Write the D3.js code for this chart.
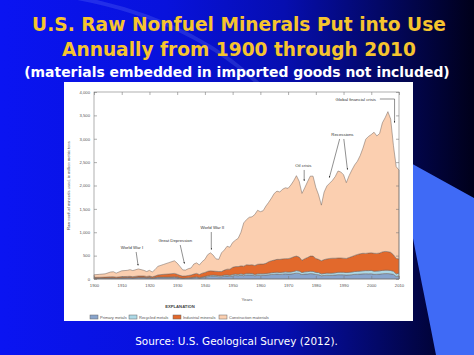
<!DOCTYPE html>
<html><head><meta charset="utf-8">
<script src="https://cdn.jsdelivr.net/npm/d3@7"></script>
<style>html,body{margin:0;padding:0;overflow:hidden;background:#0010d0}</style>
</head><body>
<svg id="c" width="474" height="355"></svg>
<script>
// ---------------- DATA (million metric tons) ----------------
const years = [1900,1902,1904,1906,1907,1908,1910,1912,1913,1914,1916,1918,1919,1920,1921,1922,1923,1925,1927,1929,
1930,1931,1932,1933,1934,1935,1936,1937,1938,1939,1940,1941,1942,1943,1944,1945,1946,1947,1948,1949,
1950,1951,1952,1953,1954,1955,1956,1957,1958,1959,1960,1961,1962,1963,1964,1965,1966,1967,1968,1969,
1970,1971,1972,1973,1974,1975,1976,1977,1978,1979,1980,1981,1982,1983,1984,1985,1986,1987,1988,1989,
1990,1991,1992,1993,1994,1995,1996,1997,1998,1999,2000,2001,2002,2003,2004,2005,2006,2007,2008,2009,2010];
const primaryMetals = [14,16,16,20,21,15,22,24,25,20,30,30,22,26,15,22,30,30,30,35,
28,18,10,13,16,20,28,33,20,30,40,50,55,58,55,50,48,58,62,55,
70,75,70,80,70,88,88,86,70,80,82,80,85,90,97,102,106,100,104,110,
105,106,115,125,120,95,105,108,115,112,95,92,70,75,82,80,80,85,92,92,
90,85,88,92,100,102,105,110,112,110,112,100,102,105,112,115,115,110,100,55,65];
const recycledMetals = [4,4,5,6,6,5,7,7,8,7,10,10,9,10,7,9,11,12,13,14,
12,10,7,8,9,10,12,13,10,14,16,20,24,25,24,22,22,25,26,24,
28,30,29,31,29,32,32,31,28,31,32,32,33,35,37,39,41,40,42,44,
44,45,48,55,52,45,48,50,52,52,48,46,40,42,45,45,46,48,52,54,
55,54,56,58,60,62,64,66,68,70,72,68,68,70,72,74,74,72,68,55,60];
const industrialMinerals = [17,18,20,22,22,20,22,24,25,23,25,25,24,29,25,32,45,58,65,71,
62,50,45,45,50,55,65,74,65,80,84,95,96,87,86,88,90,107,122,131,
152,160,166,170,176,185,180,188,190,204,206,208,217,245,256,264,273,280,284,281,
286,299,312,310,298,260,282,302,323,326,297,282,280,298,303,315,319,312,306,304,
300,301,316,330,345,361,371,374,368,375,376,382,378,380,396,401,396,388,352,330,305];
const constructionMaterials = [55,62,69,102,106,85,124,130,142,130,150,120,105,120,103,137,184,210,242,270,
238,192,133,124,145,150,215,225,205,246,280,355,385,340,265,260,400,430,490,470,
530,565,605,719,925,965,1020,1025,1092,1155,1120,1140,1225,1270,1340,1425,1460,1440,1490,1515,
1505,1560,1625,1720,1620,1430,1515,1620,1710,1710,1520,1380,1190,1445,1560,1610,1665,1745,1860,1840,
1785,1620,1750,1850,1935,1995,2100,2250,2442,2495,2530,2590,2512,2555,2760,2860,2995,2850,2330,1960,1900];
const seriesNames = ["Primary metals","Recycled metals","Industrial minerals","Construction materials"];
const seriesColors = ["#88a4cc","#acd8e6","#e2692c","#fbcfb0"];
const yTicks = [0,500,1000,1500,2000,2500,3000,3500,4000];
const xTicks = [1900,1910,1920,1930,1940,1950,1960,1970,1980,1990,2000,2010];
// annotation label positions [year, value] and arrows
const annotLabels = [
  {t:"World War I", x:1913.7, y:684},
  {t:"Great Depression", x:1929.3, y:834},
  {t:"World War II", x:1942.7, y:1112},
  {t:"Oil crisis", x:1975.5, y:2432},
  {t:"Recessions", x:1989.6, y:3095},
  {t:"Global financial crisis", x:1994.4, y:3829}
];
const annotArrows = [
  [[1915.2,578],[1915.9,290]],
  [[1931.1,727],[1932.6,330]],
  [[1942.3,1005],[1942.3,630]],
  [[1975.8,2332],[1975.8,2100]],
  [[1988.6,2995],[1984.9,2170]],
  [[1990.1,2995],[1991.4,2340]],
  [[2003.1,3850],[2008.4,3850],[2008.4,3345]]
];

// ---------------- DRAW ----------------
const svg = d3.select("#c");
const defs = svg.append("defs");
const bg = defs.append("linearGradient").attr("id","bg").attr("x1","0").attr("x2","1").attr("y1","0").attr("y2","0");
[[0,"#0a14f2"],[0.35,"#0812dc"],[0.6,"#060eb0"],[0.8,"#030866"],[1,"#00001a"]].forEach(s=>bg.append("stop").attr("offset",s[0]).attr("stop-color",s[1]));
defs.append("marker").attr("id","ah").attr("viewBox","0 0 10 10").attr("refX",9).attr("refY",5)
  .attr("markerWidth",3).attr("markerHeight",3).attr("orient","auto")
  .append("path").attr("d","M0,0L10,5L0,10Z").attr("fill","#111");

svg.append("rect").attr("width",474).attr("height",355).attr("fill","url(#bg)");
svg.append("path").attr("d","M60,-5 Q190,15 265,90").attr("fill","none").attr("stroke","rgba(150,170,255,0.18)").attr("stroke-width",4);
svg.append("path").attr("d","M398,156 L474,198 L474,355 L436,355 C428,312 417,262 404,190 Z").attr("fill","#3f6af6");

// titles
function fitText(sel, target){
  const w = sel.node().getComputedTextLength();
  const fs = parseFloat(sel.attr("font-size"));
  sel.attr("font-size", fs*target/w);
}
const t1 = svg.append("text").attr("x",239).attr("y",31).attr("text-anchor","middle").attr("font-family","DejaVu Sans, Verdana, sans-serif")
  .attr("font-weight","bold").attr("font-size",20).attr("fill","#f6c42e").text("U.S. Raw Nonfuel Minerals Put into Use");
fitText(t1,414);
const t2 = svg.append("text").attr("x",239).attr("y",56).attr("text-anchor","middle").attr("font-family","DejaVu Sans, Verdana, sans-serif")
  .attr("font-weight","bold").attr("font-size",20).attr("fill","#f6c42e").text("Annually from 1900 through 2010");
fitText(t2,354);
const t3 = svg.append("text").attr("x",237).attr("y",77).attr("text-anchor","middle").attr("font-family","DejaVu Sans, Verdana, sans-serif")
  .attr("font-weight","bold").attr("font-size",15).attr("fill","#ffffff").text("(materials embedded in imported goods not included)");
fitText(t3,426);
const t4 = svg.append("text").attr("x",236.5).attr("y",345).attr("text-anchor","middle").attr("font-family","DejaVu Sans, Verdana, sans-serif")
  .attr("font-size",12.5).attr("fill","#ffffff").text("Source: U.S. Geological Survey (2012).");
fitText(t4,203);

// white panel
svg.append("rect").attr("x",64).attr("y",82).attr("width",349).attr("height",239).attr("fill","#ffffff");

const P = {l:94, r:399, t:92, b:279};
const x = d3.scaleLinear().domain([1900,2010]).range([P.l,P.r]);
const y = d3.scaleLinear().domain([0,4000]).range([P.b,P.t]);

const rows = years.map((yr,i)=>({year:yr, pm:primaryMetals[i], rm:recycledMetals[i], im:industrialMinerals[i], cm:constructionMaterials[i]}));
const stack = d3.stack().keys(["pm","rm","im","cm"])(rows);
const area = d3.area().x(d=>x(d.data.year)).y0(d=>y(d[0])).y1(d=>y(d[1]));
const g = svg.append("g");
g.selectAll("path.a").data(stack).join("path").attr("class","a").attr("d",area)
  .attr("fill",(d,i)=>seriesColors[i]).attr("stroke","#6e625c").attr("stroke-width",0.5).attr("stroke-linejoin","round");

// frame & ticks (inward)
const ax = "#7a7a7a";
svg.append("rect").attr("x",P.l).attr("y",P.t).attr("width",P.r-P.l).attr("height",P.b-P.t).attr("fill","none").attr("stroke",ax).attr("stroke-width",0.6);
const fnt = "Liberation Sans, Arial, sans-serif";
const gl = svg.append("g").attr("transform",`translate(${P.l},0)`).call(d3.axisLeft(y).tickValues(yTicks).tickSize(-3).tickPadding(4).tickFormat(d3.format(",")));
const gr = svg.append("g").attr("transform",`translate(${P.r},0)`).call(d3.axisRight(y).tickValues(yTicks).tickSize(-3).tickFormat(""));
const gb = svg.append("g").attr("transform",`translate(0,${P.b})`).call(d3.axisBottom(x).tickValues(xTicks).tickSize(-3).tickPadding(5).tickFormat(d3.format("d")));
const gt = svg.append("g").attr("transform",`translate(0,${P.t})`).call(d3.axisTop(x).tickValues(xTicks).tickSize(-3).tickFormat(""));
[gl,gr,gb,gt].forEach(a=>{
  a.select(".domain").remove();
  a.selectAll("line").attr("stroke",ax).attr("stroke-width",0.6);
  a.selectAll("text").attr("font-family",fnt).attr("font-size",4.2).attr("fill","#555");
});

// axis labels
svg.append("text").attr("transform","translate(68.5,185.5) rotate(-90)").attr("text-anchor","middle").attr("dominant-baseline","central")
  .attr("font-family",fnt).attr("font-size",4.1).attr("fill","#555").text("Raw nonfuel minerals used, in million metric tons");
svg.append("text").attr("x",247).attr("y",299).attr("text-anchor","middle").attr("dominant-baseline","central")
  .attr("font-family",fnt).attr("font-size",4.3).attr("fill","#555").text("Years");

// annotations
svg.append("g").selectAll("text").data(annotLabels).join("text")
  .attr("x",d=>x(d.x)).attr("y",d=>y(d.y)).attr("text-anchor","middle").attr("dominant-baseline","central")
  .attr("font-family",fnt).attr("font-size",4.3).attr("fill","#333").text(d=>d.t);
const line = d3.line().x(d=>x(d[0])).y(d=>y(d[1]));
svg.append("g").selectAll("path").data(annotArrows).join("path").attr("d",line)
  .attr("fill","none").attr("stroke","#222").attr("stroke-width",0.5).attr("marker-end","url(#ah)");

// legend
svg.append("text").attr("x",180).attr("y",306.5).attr("text-anchor","middle").attr("dominant-baseline","central")
  .attr("font-family",fnt).attr("font-weight","bold").attr("font-size",4.2).attr("fill","#444").text("EXPLANATION");
const legX = [90,129,173,219];
const lg = svg.append("g").selectAll("g").data(seriesNames).join("g").attr("transform",(d,i)=>`translate(${legX[i]},317)`);
lg.append("rect").attr("x",0).attr("y",-2).attr("width",8).attr("height",4).attr("fill",(d,i)=>seriesColors[i]).attr("stroke","#666").attr("stroke-width",0.5);
lg.append("text").attr("x",10).attr("y",0).attr("dominant-baseline","central").attr("font-family",fnt).attr("font-size",4).attr("fill","#555").text(d=>d);
</script>
</body></html>
